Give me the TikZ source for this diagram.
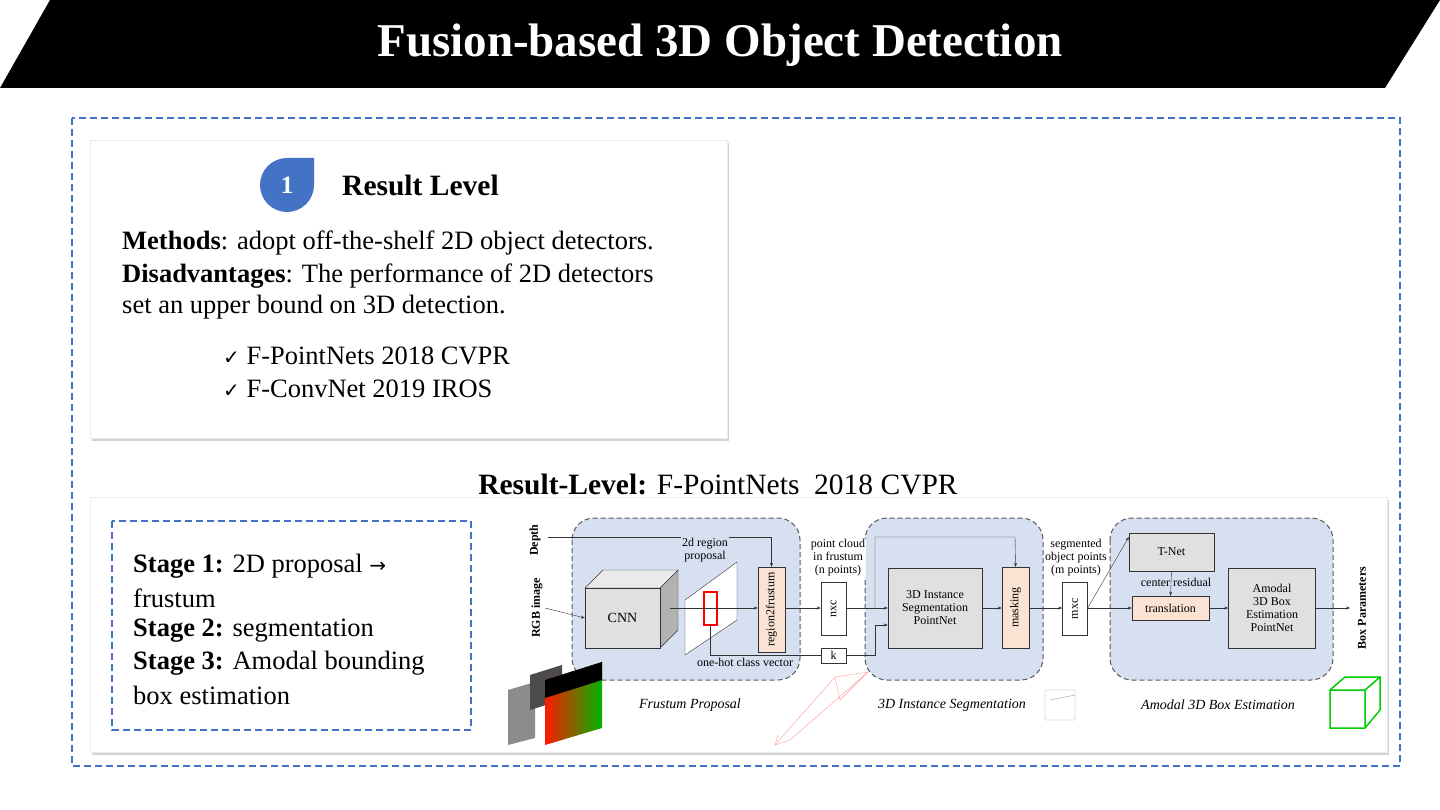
\documentclass[tikz,border=0pt]{standalone}
\usepackage{fontspec}
\setmainfont{Liberation Serif}
\newfontfamily\symf{DejaVu Sans}
\usetikzlibrary{shadows,arrows.meta}
\definecolor{myblue}{HTML}{4472C4}
\definecolor{regfill}{HTML}{D6E0F1}
\definecolor{salmon}{HTML}{FBE3D3}
\begin{document}
\begin{tikzpicture}[x=1pt,y=-1pt,
  card/.style={fill=white,draw=gray!15,drop shadow={shadow xshift=2pt,shadow yshift=-3pt,opacity=.35}},
  fig/.style={font=\fontsize{12}{13}\selectfont,align=center},
  gbox/.style={draw=black!80,fill=black!12,fig},
  sbox/.style={draw=black!80,fill=salmon,fig},
  wbox/.style={draw=black!80,fill=white,fig},
  region/.style={draw=black!65,dash pattern=on 5pt off 3pt,line width=1pt,fill=regfill,rounded corners=22pt},
  bluedash/.style={myblue,dash pattern=on 7pt off 4pt,line width=1.5pt},
  arr/.style={-{Stealth[length=4pt]},black!80,thin},
  ln/.style={black!80,thin},
  body/.style={font=\fontsize{26.5}{30}\selectfont,anchor=west,inner sep=0}]
\useasboundingbox (0,0) rectangle (1440,810);
% title
\fill[black] (0,88) -- (50,0) -- (1440,0) -- (1385,88) -- cycle;
\node[text=white,font=\bfseries\fontsize{47}{50}\selectfont] (title) at (720,45) {Fusion-based 3D Object Detection};
% outer dashed
\draw[bluedash] (72,118) rectangle (1400,766);
% card 1
\path[card] (90,140) rectangle (727,438);
\path[fill=myblue] (314,158) -- (314,185) arc[start angle=0,end angle=270,radius=27] -- cycle;
\node[text=white,font=\bfseries\fontsize{25}{26}\selectfont] (one) at (287,185) {1};
\node[body,font=\bfseries\fontsize{29.5}{30}\selectfont] (rl) at (342,185) {Result Level};
\node[body] (m1) at (122,243) {\textbf{Methods}: adopt off-the-shelf 2D object detectors.};
\node[body] (m2) at (122,276) {\textbf{Disadvantages}: The performance of 2D detectors};
\node[body] (m3) at (122,307) {set an upper bound on 3D detection.};
\node[body] (c1) at (223,356) {{\symf\fontsize{20}{20}\selectfont ✓}\ F-PointNets 2018 CVPR};
\node[body] (c2) at (223,389) {{\symf\fontsize{20}{20}\selectfont ✓}\ F-ConvNet 2019 IROS};
\node[font=\fontsize{29.5}{30}\selectfont] (cap) at (718,484) {\textbf{Result-Level:} F-PointNets\ \ 2018 CVPR};
% card 2
\path[card] (90,497) rectangle (1387,752);
\draw[bluedash] (112,521) rectangle (471,730);
\node[body] (s1) at (133,566) {\textbf{Stage 1:} 2D proposal {\symf\fontsize{20}{20}\selectfont →}};
\node[body] (s1b) at (133,598) {frustum};
\node[body] (s2) at (133,631) {\textbf{Stage 2:} segmentation};
\node[body] (s3) at (133,663) {\textbf{Stage 3:} Amodal bounding};
\node[body] (s3b) at (133,695) {box estimation};
% figure regions
\path[region] (572,518) rectangle (800,680);
\path[region] (865,518) rectangle (1043,680);
\path[region] (1110,518) rectangle (1333,680);
\node[fig,font=\bfseries\fontsize{12}{13}\selectfont,rotate=90] (dep) at (535,540) {Depth};
\node[fig,font=\bfseries\fontsize{12}{13}\selectfont,rotate=90] (rgb) at (537,608) {RGB image};
\node[fig,font=\bfseries\fontsize{12}{13}\selectfont,rotate=90] (bp) at (1362,608) {Box Parameters};
% CNN cube
\filldraw[draw=black!80,fill=black!30] (660,588) -- (678,570) -- (678,630) -- (660,648) -- cycle;
\filldraw[draw=black!80,fill=black!8] (585,588) -- (603,570) -- (678,570) -- (660,588) -- cycle;
\node[gbox,minimum width=75pt,minimum height=60pt,font=\fontsize{14}{15}\selectfont] (cnn) at (622.5,618) {CNN};
% plane
\filldraw[draw=black!80,fill=white] (685,600) -- (737,562) -- (737,620) -- (685,655) -- cycle;
\draw[red,line width=1.5pt] (704,592) rectangle (717,625);
\coordinate (rgbin) at (545,608);
\draw[arr] (rgbin) -- (cnn.west);
\node[sbox,minimum width=27pt,minimum height=85pt] (r2f) at (771.5,609.5) {};
\node[fig,rotate=90] at (r2f) {region2frustum};
\draw[arr] (670,608) -- (r2f.west |- 0,608);
\coordinate (depin) at (548,537);
\draw[arr] (depin) -| (r2f.north);
\node[fig,fill=regfill,inner sep=1pt] (rp) at (705,550) {2d region\\proposal};
\node[wbox,minimum width=25pt,minimum height=53pt] (nxc) at (833.5,608.5) {};
\node[fig,rotate=90] at (nxc) {nxc};
\node[wbox,minimum width=25pt,minimum height=15pt,inner sep=0] (k) at (833.5,655.5) {k};
\draw[arr] (r2f.east |- 0,608) -- (nxc.west |- 0,608);
\draw[ln] (710,625) |- (k.west);
\node[fig,fill=regfill,inner sep=1pt] (oh) at (745,662) {one-hot class vector};
\node[fig,fill=white,inner sep=1pt] (pc) at (838,558) {point cloud\\in frustum\\(n points)};
\node[gbox,minimum width=94pt,minimum height=80pt] (iseg) at (935,608) {3D Instance\\Segmentation\\PointNet};
\node[sbox,minimum width=27pt,minimum height=81pt] (mask) at (1015.5,607.5) {};
\node[fig,rotate=90] at (mask) {masking};
\draw[arr] (nxc.east |- 0,608) -- (iseg.west |- 0,608);
\draw[arr] (875,608) |- (1015,537) -- (mask.north);
\draw[arr] (k.east) -| (875,625) -- (iseg.west |- 0,625);
\draw[arr] (iseg.east |- 0,608) -- (mask.west |- 0,608);
\node[wbox,minimum width=25pt,minimum height=53pt] (mxc) at (1075,609) {};
\node[fig,rotate=90] at (mxc) {mxc};
\draw[arr] (mask.east |- 0,608) -- (mxc.west |- 0,608);
\node[fig,fill=white,inner sep=1pt] (so) at (1076,558) {segmented\\object points\\(m points)};
\node[gbox,minimum width=85pt,minimum height=38pt] (tnet) at (1171.5,552) {T-Net};
\node[sbox,minimum width=77pt,minimum height=24pt] (tr) at (1170.5,608) {translation};
\draw[arr] (mxc.east |- 0,608) -- (tnet.west |- 0,537);
\draw[arr] (mxc.east |- 0,608) -- (tr.west);
\draw[arr] (tnet.south) -- (tr.north);
\node[fig,inner sep=1pt] (cr) at (1176,582) {center residual};
\node[gbox,minimum width=87pt,minimum height=80pt] (amo) at (1272,608) {Amodal\\3D Box\\Estimation\\PointNet};
\draw[arr] (tr.east) -- (amo.west |- 0,608);
\coordinate (bout) at (1350,608);
\draw[arr] (amo.east |- 0,608) -- (bout);
% italic captions
\node[fig,font=\itshape\fontsize{14}{15}\selectfont] (fp) at (690,705) {Frustum Proposal};
\node[fig,font=\itshape\fontsize{14}{15}\selectfont] (is) at (952,705) {3D Instance Segmentation};
\node[fig,font=\itshape\fontsize{14}{15}\selectfont] (ab) at (1218,705) {Amodal 3D Box Estimation};
% images (approximate)
\fill[black!45] (508,690) -- (535,682) -- (535,738) -- (508,745) -- cycle;
\fill[black!70] (530,675) -- (562,665) -- (562,700) -- (530,710) -- cycle;
\shade[left color=red!80!orange,right color=green!70!black] (545,680) -- (602,662) -- (602,728) -- (545,745) -- cycle;
\fill[black] (545,680) -- (602,662) -- (602,680) -- (545,698) -- cycle;
\draw[red!40] (775,745) -- (835,677) -- (868,672) -- (790,740) -- cycle (775,745) -- (790,740);
\draw[red!40] (835,677) -- (840,700) -- (868,672) (775,745) -- (778,735);
\draw[black!40] (1045,690) rectangle (1075,720) (1050,700) -- (1075,695);
\draw[green!80!black,line width=1.5pt] (1330,690) -- (1345,677) -- (1380,677) -- (1380,710) -- (1365,728) -- (1330,728) -- cycle (1330,690) -- (1365,690) -- (1380,677) (1365,690) -- (1365,728);
\end{tikzpicture}
\end{document}
